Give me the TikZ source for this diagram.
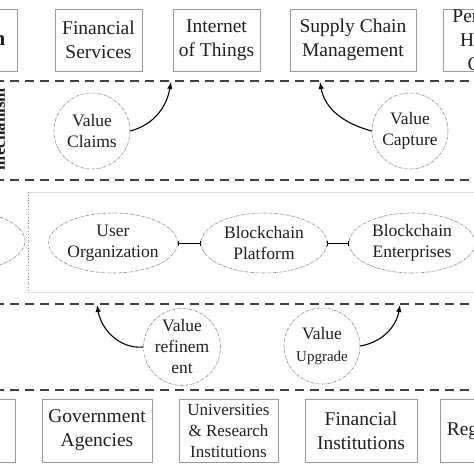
\documentclass[tikz,border=0pt]{standalone}
\usepackage{fontspec}
\setmainfont{Liberation Serif}
\usetikzlibrary{arrows.meta,shapes.geometric}
\begin{document}
\begin{tikzpicture}[x=1pt,y=-1pt,
  box/.style={draw=black!40, line width=0.8pt, rectangle, align=center, inner sep=0pt,
    minimum height=62pt, text=black!88, font=\fontsize{19.5}{24}\selectfont},
  smallbox/.style={box, font=\fontsize{17}{21}\selectfont},
  sep/.style={draw=black!75, line width=1.3pt, dash pattern=on 9pt off 6pt},
  ell/.style={draw=black!45, line width=0.6pt, dash pattern=on 3pt off 1pt on 0.6pt off 1pt,
    ellipse, minimum width=126pt, minimum height=60pt, inner sep=0pt, align=center,
    text=black!88, font=\fontsize{17.5}{20.5}\selectfont},
  circ/.style={draw=black!45, line width=0.6pt, dash pattern=on 3pt off 1pt on 0.6pt off 1pt,
    circle, minimum size=76pt, inner sep=0pt, align=center,
    text=black!88, font=\fontsize{17.5}{20.5}\selectfont},
  arr/.style={draw=black, line width=1.1pt, -{Latex[length=7pt,width=5.5pt]}},
  link/.style={draw=black, line width=1pt, {Bar[width=5pt]}-{Bar[width=5pt]}}
]
\useasboundingbox (0,0) rectangle (474,474);
\clip (0,0) rectangle (474,474);

% top row of boxes
\node[box, minimum width=67pt] (tl) at (-16.5,40) {};
\node[anchor=east, inner sep=0pt, font=\fontsize{21}{24}\selectfont\bfseries, text=black!88] (tltext) at (5.5,40) {Application};
\node[box, minimum width=87pt] (fs) at (98.5,40) {Financial\\Services};
\node[box, minimum width=87pt] (iot) at (216.5,40) {Internet\\of Things};
\node[box, minimum width=126pt] (scm) at (353,40) {Supply Chain\\Management};
\node[box, minimum width=86pt] (phc) at (486,40) {Personal\\Health\\Care};

% separators
\draw[sep] (-5,81) -- (480,81);
\draw[sep] (-5,180) -- (480,180);
\draw[sep] (-5,304) -- (480,304);
\draw[sep] (-5,390) -- (480,390);

% vertical label
\node[rotate=90, anchor=base, inner sep=0pt, font=\fontsize{17}{20}\selectfont\bfseries, text=black!88] (mech) at (5,129) {mechanism};

% top circles
\node[circ] (vcl) at (92,131) {Value\\Claims};
\node[circ] (vca) at (410,131) {Value\\Capture};
\coordinate (a1) at (171,82);
\coordinate (a2) at (320,82);
\draw[arr] (vcl.east) to[out=15,in=-100] (a1);
\draw[arr] (vca.west) to[out=165,in=-80] (a2);

% middle band
\draw[draw=black!12, line width=0.6pt] (28,192) -- (480,192);
\draw[draw=black!12, line width=0.6pt] (28,292) -- (480,292);
\draw[draw=black!45, line width=0.8pt, dotted] (28,192) -- (28,292);

\node[ell] (el0) at (-38,241) {};
\node[ell] (uo) at (113,243) {User\\Organization};
\node[ell] (bp) at (264,243) {Blockchain\\Platform};
\node[ell] (be) at (412,243) {Blockchain\\Enterprises};
\draw[link] (uo) -- (bp);
\draw[link] (bp) -- (be);

% bottom circles
\node[circ, font=\fontsize{17.5}{21}\selectfont] (vr) at (182,347) {Value\\refinem\\ent};
\node[circ] (vu) at (322,346) {Value\\[1pt]{\fontsize{15}{18}\selectfont Upgrade}};
\coordinate (a3) at (97,305);
\coordinate (a4) at (400,305);
\draw[arr] (vr.west) to[out=185,in=-80] (a3);
\draw[arr] (vu.east) to[out=10,in=-100] (a4);

% bottom row of boxes
\node[box, minimum width=65pt, minimum height=63pt] (bl) at (-17.5,430.5) {};
\node[box, minimum width=110pt, minimum height=63pt] (ga) at (97,430.5) {Government\\Agencies};
\node[smallbox, minimum width=99pt, minimum height=63pt] (ur) at (228.5,430.5) {Universities\\\& Research\\Institutions};
\node[box, minimum width=112pt, minimum height=63pt] (fi) at (361,430.5) {Financial\\Institutions};
\node[box, minimum width=98pt, minimum height=63pt] (rg) at (489,430.5) {Regulators};
\end{tikzpicture}
\end{document}
